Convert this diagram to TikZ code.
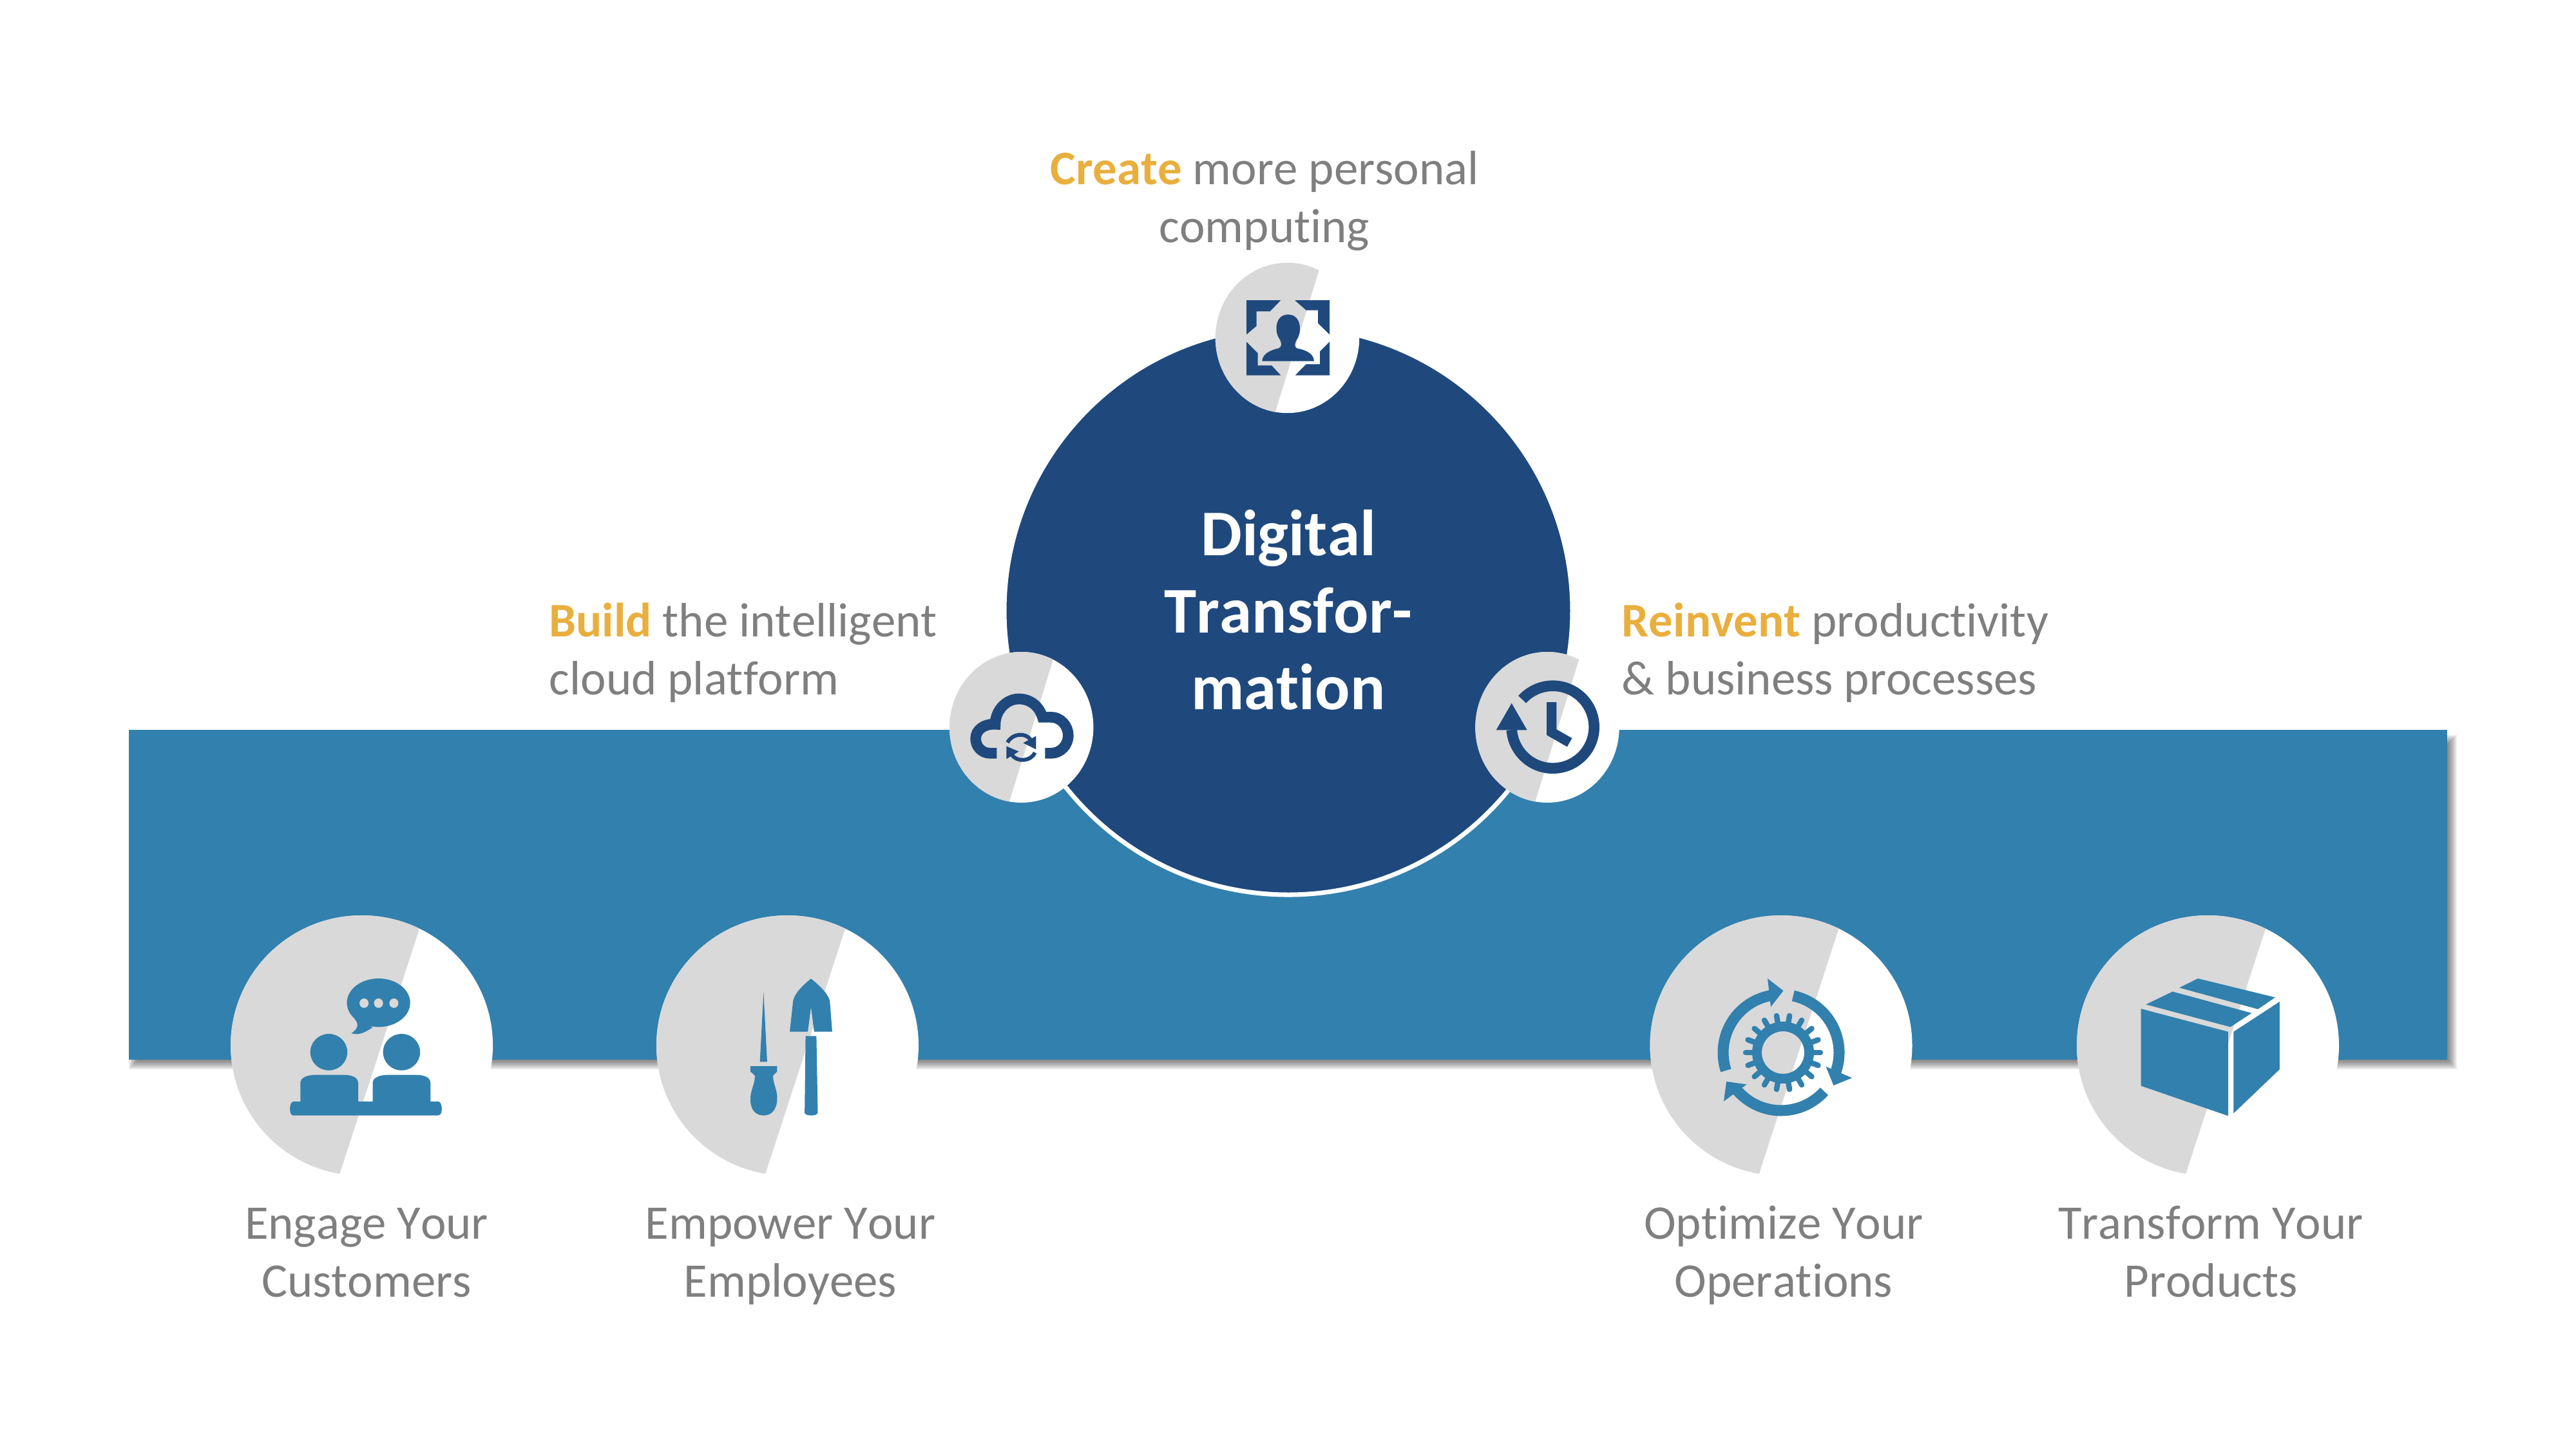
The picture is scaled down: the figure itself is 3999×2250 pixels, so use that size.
\documentclass[tikz,border=0pt]{standalone}
\usepackage{fontspec}
\setmainfont[Ligatures=NoCommon,Kerning=Off]{Carlito}
\definecolor{hgrey}{RGB}{127,127,127}
\definecolor{hsilver}{RGB}{217,217,217}
\definecolor{hnavy}{RGB}{31,73,125}
\definecolor{hblue}{RGB}{50,128,173}
\definecolor{hgold}{RGB}{233,175,62}
\tikzset{
  label text/.style={inner sep=0pt,text=hgrey,font=\fontsize{21.3}{25.6}\selectfont},
  title text/.style={inner sep=0pt,text=white,align=center,font=\fontsize{28.8}{34.1}\selectfont\bfseries},
  zoom a/.style={shift={#1},scale=0.3333},
  zoom b/.style={shift={#1},xscale=0.7015,yscale=0.3333},
}
\newcommand{\hot}[1]{\textcolor{hgold}{\textbf{#1}}}
\newcommand{\badge}[4]{%
  \fill[white] (#1,#2) ellipse [x radius=#3,y radius=#4];
  \begin{scope}
    \clip (#1-#3*1.1,#2-#4*1.1) -- (#1+#3*0.505,#2-#4*1.1) -- (#1-#3*0.205,#2+#4*1.1) -- (#1-#3*1.1,#2+#4*1.1) -- cycle;
    \fill[hsilver] (#1,#2) ellipse [x radius=#3,y radius=#4];
  \end{scope}}
\begin{document}
\begin{tikzpicture}[x=0.01cm,y=-0.01cm]
\useasboundingbox (0,0) rectangle (3999,2250);
\foreach \d in {-10,-8,...,10}
  \fill[black,opacity=0.08] (210-\d,1151-\d) rectangle (3804+\d,1650+\d);
\fill[hblue] (200,1133) rectangle (3799,1645);
\fill[hnavy,draw=white,line width=2pt] (2000,948) circle [radius=441];
\badge{1998.5}{524.5}{111.7}{116.7}
\badge{1585.7}{1129}{111.7}{117}
\badge{2402}{1129}{111.7}{117}
\badge{561.6}{1623}{203.5}{202}
\badge{1222.5}{1623}{203.5}{202}
\badge{2765}{1623}{203.5}{202}
\badge{3427.5}{1623}{203.5}{202}
\begin{scope}[zoom a={(1850,380)},hnavy]
\fill (255,258) -- (415,258) -- (365,310) -- (302,310) -- (302,378) -- (255,418) -- cycle;
\fill (480,258) -- (642,258) -- (642,418) -- (588,365) -- (588,305) -- (533,305) -- cycle;
\fill (642,452) -- (642,608) -- (482,608) -- (533,556) -- (597,556) -- (597,497) -- cycle;
\fill (255,452) -- (308,505) -- (308,562) -- (372,562) -- (415,608) -- (255,608) -- cycle;
\fill (328,542) .. controls (330,505) and (370,490) .. (405,482) .. controls (420,475) and (420,460) .. (410,440) .. controls (385,410) and (385,325) .. (449,325) .. controls (513,325) and (513,410) .. (490,440) .. controls (478,460) and (478,475) .. (490,482) .. controls (530,490) and (568,505) .. (570,542) -- cycle;
\end{scope}
\begin{scope}[zoom a={(1440,990)},hnavy]
\draw[line width=4.74pt] (322,538) -- (292,538) .. controls (250,538) and (224,505) .. (224,470) .. controls (224,430) and (262,400) .. (315,403) .. controls (315,340) and (365,285) .. (425,285) .. controls (480,285) and (520,320) .. (535,370) -- (575,370) .. controls (620,370) and (655,410) .. (655,455) .. controls (655,500) and (620,538) .. (575,538) -- (547,538);
\draw[line width=1.7pt] (372,488) .. controls (395,445) and (455,440) .. (480,475);
\draw[line width=1.7pt] (500,535) .. controls (480,578) and (415,580) .. (392,545);
\fill (505,458) -- (505,520) -- (445,490) -- cycle;
\fill (367,505) -- (367,565) -- (425,530) -- cycle;
\end{scope}
\begin{scope}[zoom a={(2260,990)},hnavy]
\draw[line width=4.74pt] (452,416) ++(222:192) arc [start angle=222,end angle=536,radius=192];
\fill (188,430) -- (332,430) -- (260,305) -- cycle;
\draw[line width=4.36pt] (446,300) -- (446,440) -- (530,488);
\end{scope}
\begin{scope}[zoom b={(340,1400)},hblue]
\fill (353,470) ellipse [x radius=70,y radius=113];
\fill (300,545) .. controls (312,575) and (305,595) .. (293,612) .. controls (310,625) and (325,605) .. (340,585) -- cycle;
\fill[hsilver] (321,472) ellipse [x radius=10,y radius=22];
\fill[hsilver] (353,472) ellipse [x radius=10,y radius=22];
\fill[hsilver] (387,472) ellipse [x radius=10,y radius=22];
\fill (243,700) ellipse [x radius=41,y radius=85];
\fill (404,700) ellipse [x radius=41,y radius=85];
\fill (180,935) -- (180,845) .. controls (180,818) and (195,806) .. (215,806) -- (275,806) .. controls (295,806) and (308,818) .. (308,845) -- (308,935) -- cycle;
\fill (340,935) -- (340,845) .. controls (340,818) and (355,806) .. (375,806) -- (435,806) .. controls (455,806) and (468,818) .. (468,845) -- (468,935) -- cycle;
\fill (165,930) -- (485,930) .. controls (490,930) and (493,945) .. (493,965) .. controls (493,985) and (490,995) .. (483,995) -- (165,995) .. controls (160,995) and (157,985) .. (157,965) .. controls (157,945) and (160,930) .. (165,930) -- cycle;
\fill (1205,420) -- (1213,745) -- (1197,745) -- cycle;
\fill (1176,765) -- (1235,765) -- (1235,790) -- (1226,810) .. controls (1226,850) and (1237,880) .. (1235,925) .. controls (1233,975) and (1220,995) .. (1205,995) .. controls (1190,995) and (1177,975) .. (1176,925) .. controls (1175,880) and (1186,850) .. (1186,810) -- (1176,790) -- cycle;
\fill (1310,358) .. controls (1285,400) and (1270,440) .. (1270,470) -- (1263,605) -- (1303,605) -- (1310,490) -- (1317,605) -- (1357,605) -- (1352,470) .. controls (1352,440) and (1335,400) .. (1310,358) -- cycle;
\fill (1298,625) -- (1322,625) -- (1325,982) .. controls (1325,990) and (1318,995) .. (1311,995) .. controls (1303,995) and (1296,990) .. (1296,982) -- cycle;
\end{scope}
\begin{scope}[zoom b={(2540,1400)},hblue]
\fill (1117,498) -- (1310,605) -- (1310,997) -- (1117,857) -- cycle;
\fill (1322,605) -- (1424,465) -- (1424,780) -- (1322,985) -- cycle;
\fill (1128,478) -- (1187,418) -- (1362,518) -- (1315,583) -- cycle;
\fill (1202,400) -- (1243,357) -- (1414,445) -- (1376,500) -- cycle;
\end{scope}
\begin{scope}[shift={(2768,1634)},hblue]
\fill[even odd rule] (0,0) circle [radius=48] (0,0) circle [radius=33];
\foreach \a in {0,20,...,340}
  \draw[line width=2.4pt,line cap=round] (\a:44) -- (\a:58);
\end{scope}
\begin{scope}[shift={(2765,1634)},hblue]
\foreach \a in {0,120,240}{
  \begin{scope}[rotate=-\a]
  \draw[line width=4.84pt] (162:90) arc [start angle=162,end angle=260,radius=90];
  \fill (-21,-115) -- (3.5,-96) -- (-16,-71) -- cycle;
  \end{scope}
}
\end{scope}
\node[title text] (core) at (2000,958) {\strut Digital\\Transfor-\\mation\strut};
\node[label text,align=center] (create) at (1963,313) {\strut\hot{Create} more personal\\computing\strut};
\node[label text,align=left,anchor=west] (build) at (852,1015) {\strut\hot{Build} the intelligent\\cloud platform\strut};
\node[label text,align=left,anchor=west] (reinvent) at (2517,1015) {\strut\hot{Reinvent} productivity\\\& business processes\strut};
\node[label text,align=center] (engage) at (569,1950) {\strut Engage Your\\Customers\strut};
\node[label text,align=center] (empower) at (1227,1950) {\strut Empower Your\\Employees\strut};
\node[label text,align=center] (optimize) at (2769,1950) {\strut Optimize Your\\Operations\strut};
\node[label text,align=center] (transform) at (3432,1950) {\strut Transform Your\\Products\strut};
\end{tikzpicture}
\end{document}
